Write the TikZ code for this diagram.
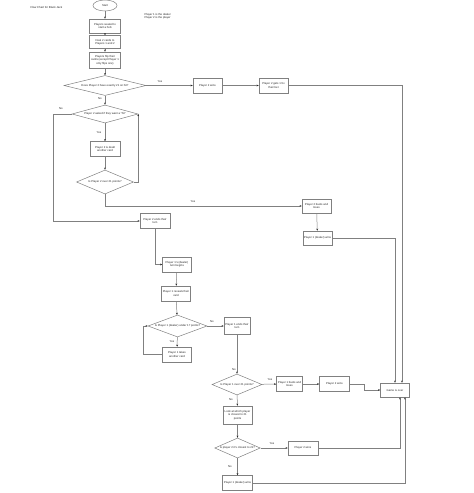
\documentclass[tikz,border=0pt]{standalone}
\usepackage{fontspec}
\setmainfont{Liberation Sans}
\usetikzlibrary{shapes.geometric,arrows.meta,calc}
\begin{document}
\begin{tikzpicture}[x=1pt,y=-1pt,
  every node/.style={font=\fontsize{2.8}{3.3}\selectfont, text=black!85},
  fbox/.style n args={2}{draw=black!50, line width=0.5pt, rectangle, align=center,
     inner sep=0.5pt, minimum width=#1pt, minimum height=#2pt},
  diam/.style n args={2}{draw=black!50, line width=0.5pt, diamond, aspect=4, align=center,
     inner sep=0pt, minimum width=#1pt, minimum height=#2pt},
  ar/.style={draw=black!50, line width=0.5pt, -{Stealth[length=2.2pt,width=1.8pt,color=black!85]}},
  lbl/.style={inner sep=0pt}
]
\useasboundingbox (0,0) rectangle (474,493);
% texts
\node[anchor=west] (title) at (27,7) {Flow Chart for Black Jack};
\node[anchor=north west, align=left] (note) at (141,10) {Player 1 is the dealer\\Player 2 is the player};
% column 1
\node[ellipse, draw=black!50, line width=0.5pt, minimum width=24pt, minimum height=11pt, inner sep=0pt] (start) at (105,5.5) {Start};
\node[fbox={31}{14}] (b1) at (105,26) {Players seated to\\start a hob};
\node[fbox={31}{13}] (b2) at (105,42) {Deal 2 cards to\\Players 1 and 2};
\node[fbox={31}{16}] (b3) at (105,60) {Players flip their\\cards (except Player 1\\only flips one)};
\node[diam={82}{20}] (d1) at (105,85.5) {Does Player 2 have exactly 21 on hit?};
\node[fbox={29}{15}] (w1) at (207.5,85.5) {Player 2 wins};
\node[fbox={29}{15}] (bet) at (273.5,85.5) {Player 2 gets 1.5x\\their bet};
\node[diam={66}{18}] (d2) at (105,114) {Player 2 asked if they want a ``hit''};
\node[fbox={30}{15}] (deal2) at (105,149) {Player 2 is dealt\\another card};
\node[diam={57}{24}] (d3) at (105,182) {Is Player 2 over 21 points?};
\node[fbox={29}{14}] (bust2) at (316.5,206) {Player 2 busts and\\loses};
\node[fbox={29}{14}] (dw1) at (317.5,238) {Player 1 (dealer) wins};
\node[fbox={30}{15}] (end2) at (155,221) {Player 2 ends their\\turn};
\node[fbox={29}{15}] (p1turn) at (177,264.5) {Player 1's (dealer)\\turn begins};
\node[fbox={29}{15}] (reveal) at (176,293.5) {Player 1 reveals their\\card};
\node[diam={59}{22}] (d4) at (177.5,326) {Is Player 1 (dealer) under 17 points?};
\node[fbox={26}{17}] (end1) at (237,326) {Player 1 ends their\\turn};
\node[fbox={29}{15}] (take) at (177,354.5) {Player 1 takes\\another card};
\node[diam={50}{21}] (d5) at (237,384.5) {Is Player 1 over 21 points?};
\node[fbox={26}{15}] (bust1) at (289.5,384) {Player 1 busts and\\loses};
\node[fbox={30}{15}] (w2a) at (334.5,384) {Player 2 wins};
\node[fbox={29}{14}] (over) at (395,390) {Game is over};
\node[fbox={29}{18}] (look) at (237.5,415) {Look at which player\\is closest to 21\\points};
\node[diam={44}{20}] (d6) at (237.5,448) {Is player 2 it's closest to 21?};
\node[fbox={30}{14}] (w2b) at (303,448) {Player 2 wins};
\node[fbox={30}{15}] (dw2) at (237.5,483) {Player 1 (dealer) wins};
% connectors
\draw[ar] (start) -- (b1);
\draw[ar] (b1) -- (b2);
\draw[ar] (b2) -- (b3);
\draw[ar] (b3) -- (d1);
\draw[ar] (d1) -- (w1);
\draw[ar] (w1) -- (bet);
\draw[ar] (bet.east) -| ([xshift=7pt]over.north);
\draw[ar] (d1) -- (d2);
\draw[ar] (d2.west) -- ++(-19,0) |- (end2.west);
\draw[ar] (d2) -- (deal2);
\draw[ar] (deal2) -- (d3);
\draw[ar] (d3.east) -| (d2.east);
\draw[ar] (d3.south) |- (bust2.west);
\draw[ar] (bust2) -- (dw1);
\draw[ar] (dw1.east) -| (over.north);
\draw[ar] (end2.south) |- (p1turn.west);
\draw[ar] (p1turn) -- (reveal);
\draw[ar] (reveal) -- (d4);
\draw[ar] (d4) -- (end1);
\draw[ar] (d4) -- (take);
\draw[ar] (take.west) -- ++(-19,0) |- (d4.west);
\draw[ar] (end1) -- (d5);
\draw[ar] (d5) -- (bust1);
\draw[ar] (bust1) -- (w2a);
\draw[ar] (w2a.east) -- ++(14,0) |- (over.west);
\draw[ar] (d5) -- (look);
\draw[ar] (look) -- (d6);
\draw[ar] (d6) -- (w2b);
\draw[ar] (w2b.east) -| ([xshift=5pt]over.south);
\draw[ar] (d6) -- (dw2);
\draw[ar] (dw2.east) -| ([xshift=10pt]over.south);
% labels
\node[lbl] (l1) at (160,82) {Yes};
\node[lbl] (l2) at (100,99) {No};
\node[lbl] (l3) at (61,109) {No};
\node[lbl] (l4) at (99,133) {Yes};
\node[lbl] (l5) at (193,202) {Yes};
\node[lbl] (l6) at (212,322) {No};
\node[lbl] (l7) at (172,342) {Yes};
\node[lbl] (l8) at (234,370) {No};
\node[lbl] (l9) at (270,380) {Yes};
\node[lbl] (l10) at (231,400) {No};
\node[lbl] (l11) at (272,444) {Yes};
\node[lbl] (l12) at (230,467) {No};
\end{tikzpicture}
\end{document}
